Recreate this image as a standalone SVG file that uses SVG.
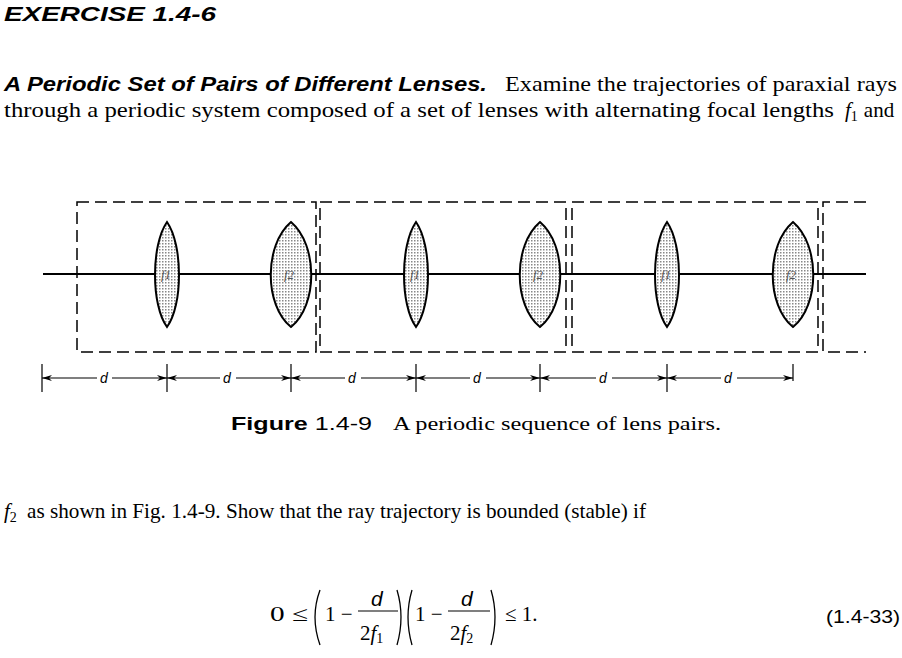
<svg xmlns="http://www.w3.org/2000/svg" width="902" height="658" viewBox="0 0 902 658">
<defs>
<pattern id="dots" width="3" height="3" patternUnits="userSpaceOnUse"><rect width="3" height="3" fill="#fff"/><rect width="1.5" height="1.5" fill="#888"/></pattern>
<marker id="ar" viewBox="0 0 10 6" refX="10" refY="3" markerWidth="10" markerHeight="6" orient="auto-start-reverse" markerUnits="userSpaceOnUse"><path d="M0,0 L10,3 L0,6 L3,3 Z" fill="#000"/></marker>
</defs>
<style>
.b{fill:none;stroke:#000;stroke-width:1.5;stroke-dasharray:12,6}
.ax{stroke:#000;stroke-width:2}
.l{fill:url(#dots);stroke:#000;stroke-width:2}
.dim{stroke:#000;stroke-width:1.2}
.sans{font-family:"Liberation Sans",Arial,sans-serif}
.ser{font-family:"Liberation Serif","Times New Roman",serif}
.fl{font-family:"Liberation Serif",serif;font-style:italic;font-size:13px;fill:#555}
.d{font-family:"Liberation Sans",sans-serif;font-style:italic;font-size:14px}
</style>
<text x="4" y="21" class="sans" font-size="20" font-weight="bold" font-style="italic" textLength="212" lengthAdjust="spacingAndGlyphs">EXERCISE 1.4-6</text>
<text x="4" y="91" class="sans" font-size="20" font-weight="bold" font-style="italic" textLength="483" lengthAdjust="spacingAndGlyphs">A Periodic Set of Pairs of Different Lenses.</text>
<text x="505" y="91" class="ser" font-size="21" textLength="392" lengthAdjust="spacingAndGlyphs">Examine the trajectories of paraxial rays</text>
<text x="4" y="117" class="ser" font-size="21" textLength="830" lengthAdjust="spacingAndGlyphs">through a periodic system composed of a set of lenses with alternating focal lengths</text>
<text x="845" y="117" class="ser" font-size="21"><tspan font-style="italic">f</tspan><tspan font-size="14" dy="4">1</tspan><tspan dy="-4" dx="6">and</tspan></text>
<g id="boxes">
<rect class="b" x="77" y="202" width="239" height="150"/>
<rect class="b" x="320" y="202" width="246" height="150"/>
<rect class="b" x="572" y="202" width="246" height="150"/>
<path class="b" d="M866,202 H823 V352 H866"/>
</g>
<g id="axis"><line class="ax" x1="43" y1="274" x2="866" y2="274"/></g>
<g id="lens1"><path class="l" d="M167,222 C183,245 183,305 167,327 C151,305 151,245 167,222 Z"/><text class="fl" x="161" y="279">f1</text></g>
<g id="lens2"><path class="l" d="M291,222 C318,245 318,305 291,327 C264,305 264,245 291,222 Z"/><text class="fl" x="284" y="279">f2</text></g>
<g id="lens3"><path class="l" d="M416,222 C432,245 432,305 416,327 C400,305 400,245 416,222 Z"/><text class="fl" x="410" y="279">f1</text></g>
<g id="lens4"><path class="l" d="M540,222 C567,245 567,305 540,327 C513,305 513,245 540,222 Z"/><text class="fl" x="533" y="279">f2</text></g>
<g id="lens5"><path class="l" d="M667,222 C683,245 683,305 667,327 C651,305 651,245 667,222 Z"/><text class="fl" x="661" y="279">f1</text></g>
<g id="lens6"><path class="l" d="M793,222 C820,245 820,305 793,327 C766,305 766,245 793,222 Z"/><text class="fl" x="786" y="279">f2</text></g>
<g id="connectors">
<g class="dim">
<line x1="42" y1="364" x2="42" y2="392"/>
<line x1="167" y1="364" x2="167" y2="392"/>
<line x1="291" y1="364" x2="291" y2="392"/>
<line x1="416" y1="364" x2="416" y2="392"/>
<line x1="540" y1="364" x2="540" y2="392"/>
<line x1="667" y1="364" x2="667" y2="392"/>
<line x1="793" y1="364" x2="793" y2="381"/>
<line x1="42" y1="378" x2="97" y2="378" marker-start="url(#ar)"/><line x1="112" y1="378" x2="167" y2="378" marker-end="url(#ar)"/>
<line x1="167" y1="378" x2="220" y2="378" marker-start="url(#ar)"/><line x1="236" y1="378" x2="291" y2="378" marker-end="url(#ar)"/>
<line x1="291" y1="378" x2="345" y2="378" marker-start="url(#ar)"/><line x1="361" y1="378" x2="416" y2="378" marker-end="url(#ar)"/>
<line x1="416" y1="378" x2="470" y2="378" marker-start="url(#ar)"/><line x1="486" y1="378" x2="540" y2="378" marker-end="url(#ar)"/>
<line x1="540" y1="378" x2="596" y2="378" marker-start="url(#ar)"/><line x1="612" y1="378" x2="667" y2="378" marker-end="url(#ar)"/>
<line x1="667" y1="378" x2="721" y2="378" marker-start="url(#ar)"/><line x1="737" y1="378" x2="793" y2="378" marker-end="url(#ar)"/>
</g>
<text class="d" x="100" y="383">d</text><text class="d" x="223" y="383">d</text><text class="d" x="348" y="383">d</text><text class="d" x="473" y="383">d</text><text class="d" x="599" y="383">d</text><text class="d" x="724" y="383">d</text>
</g>
<text x="231" y="430" class="sans" font-size="18" textLength="141" lengthAdjust="spacingAndGlyphs"><tspan font-weight="bold">Figure</tspan> 1.4-9</text>
<text x="393" y="430" class="ser" font-size="19" textLength="328" lengthAdjust="spacingAndGlyphs">A periodic sequence of lens pairs.</text>
<text x="4" y="518" class="ser" font-size="21"><tspan font-style="italic">f</tspan><tspan font-size="14" dy="4">2</tspan></text>
<text x="27" y="518" class="ser" font-size="21" textLength="619" lengthAdjust="spacingAndGlyphs">as shown in Fig. 1.4-9. Show that the ray trajectory is bounded (stable) if</text>
<g class="ser" font-size="21">
<text x="270" y="621" textLength="38" lengthAdjust="spacingAndGlyphs">0 ≤</text>
<path d="M320,590 Q310,617 320,645" fill="none" stroke="#000" stroke-width="1.3"/>
<text x="325" y="621">1 −</text>
<text x="371" y="606" class="sans" font-style="italic" font-size="21">d</text>
<line x1="358" y1="611" x2="398" y2="611" stroke="#000" stroke-width="1.2"/>
<text x="360" y="640">2<tspan font-style="italic">f</tspan><tspan font-size="14" dy="3">1</tspan></text>
<path d="M397,590 Q405,617 397,645" fill="none" stroke="#000" stroke-width="1.3"/>
<path d="M412,590 Q404,617 412,645" fill="none" stroke="#000" stroke-width="1.3"/>
<text x="415" y="621">1 −</text>
<text x="461" y="606" class="sans" font-style="italic" font-size="21">d</text>
<line x1="448" y1="611" x2="490" y2="611" stroke="#000" stroke-width="1.2"/>
<text x="450" y="640">2<tspan font-style="italic">f</tspan><tspan font-size="14" dy="3">2</tspan></text>
<path d="M491,590 Q499,617 491,645" fill="none" stroke="#000" stroke-width="1.3"/>
<text x="505" y="621">≤ 1.</text>
</g>
<text x="826" y="623" class="sans" font-size="19" textLength="74" lengthAdjust="spacingAndGlyphs">(1.4-33)</text>
</svg>
